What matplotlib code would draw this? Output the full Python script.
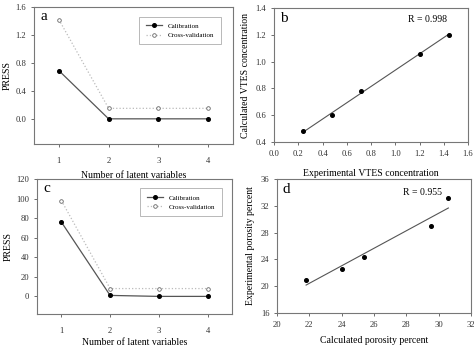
import numpy as np
import matplotlib
matplotlib.use('Agg')
import matplotlib.pyplot as plt

plt.rcParams['font.family'] = ['Liberation Serif', 'DejaVu Serif']

# PRESS vs number of latent variables
n_lv = [1, 2, 3, 4]
press_cal_a = [0.69, 0.0, 0.0, 0.0]
press_cv_a = [1.42, 0.15, 0.15, 0.15]
press_cal_c = [76, 1, 0, 0]
press_cv_c = [98, 8, 8, 8]

# VTES concentration
vtes_exp = [0.24, 0.48, 0.72, 1.20, 1.44]
vtes_calc = [0.48, 0.60, 0.78, 1.06, 1.20]

# porosity
por_calc = [21.8, 24.0, 25.4, 29.5, 30.6]
por_exp = [21.0, 22.6, 24.3, 29.0, 33.1]

W, H = 474, 349
fig = plt.figure(figsize=(W / 100, H / 100), dpi=100)


def box(l, t, r, b):
    return [l / W, 1 - b / H, (r - l) / W, (b - t) / H]


ax_a = fig.add_axes(box(34, 7, 233, 144))
ax_b = fig.add_axes(box(274, 8, 468, 142))
ax_c = fig.add_axes(box(37, 179, 232, 314))
ax_d = fig.add_axes(box(277, 179, 471, 313))

tick_fs = 6.2
lab_fs = 7


def style(ax, xpad=3):
    for s in ax.spines.values():
        s.set_color('#777777')
        s.set_linewidth(0.8)
    ax.tick_params(labelsize=tick_fs, colors='#555555', length=2.5, width=0.6,
                   labelcolor='#333333', pad=3)
    ax.tick_params(axis='x', pad=xpad)


def press_panel(ax, cal, cv, letter, ylim, yticks, yfmt, xlpad):
    ax.plot(n_lv, cv, ':', color='#bbbbbb', lw=0.9, marker='o', ms=2.6,
            mfc='white', mec='#666666', mew=0.6, label='Cross-validation')
    ax.plot(n_lv, cal, '-', color='#555555', lw=0.9, marker='o', ms=2.6,
            mfc='black', mec='black', label='Calibration')
    ax.set_xlim(0.5, 4.5)
    ax.set_ylim(*ylim)
    ax.set_xticks(n_lv)
    ax.set_yticks(yticks)
    ax.set_yticklabels([yfmt % v for v in yticks])
    ax.set_xlabel('Number of latent variables', fontsize=lab_fs, labelpad=xlpad)
    ax.set_ylabel('PRESS', fontsize=lab_fs, labelpad=3)
    ax.text(0.035, 0.93, letter, transform=ax.transAxes, fontsize=11,
            va='center', ha='left')
    h, l = ax.get_legend_handles_labels()
    leg = ax.legend(h[::-1], l[::-1], loc='upper left', bbox_to_anchor=(0.53, 0.93),
                    fontsize=5, frameon=True, fancybox=False, borderpad=0.9,
                    handlelength=2.4, labelspacing=0.5, borderaxespad=0)
    leg.get_frame().set_edgecolor('#999999')
    leg.get_frame().set_linewidth(0.6)
    style(ax, xpad=7)


press_panel(ax_a, press_cal_a, press_cv_a, 'a', (-0.36, 1.6),
            [0.0, 0.4, 0.8, 1.2, 1.6], '%.1f', 4)
press_panel(ax_c, press_cal_c, press_cv_c, 'c', (-18, 120),
            [0, 20, 40, 60, 80, 100, 120], '%d', 2)


def fit_panel(ax, x, y, letter, rtext, xlim, ylim, xticks, yticks, xfmt, yfmt,
              xlabel, ylabel, rpos, xlpad):
    k, c = np.polyfit(x, y, 1)
    xs = np.array([min(x), max(x)])
    ax.plot(xs, k * xs + c, '-', color='#555555', lw=0.8)
    ax.plot(x, y, 'o', color='black', ms=2.6)
    ax.set_xlim(*xlim)
    ax.set_ylim(*ylim)
    ax.set_xticks(xticks)
    ax.set_xticklabels([xfmt % v for v in xticks])
    ax.set_yticks(yticks)
    ax.set_yticklabels([yfmt % v for v in yticks])
    ax.set_xlabel(xlabel, fontsize=lab_fs, labelpad=xlpad)
    ax.set_ylabel(ylabel, fontsize=lab_fs, labelpad=4)
    ax.text(0.03, 0.92, letter, transform=ax.transAxes, fontsize=11,
            va='center', ha='left')
    ax.text(rpos[0], rpos[1], rtext, transform=ax.transAxes, fontsize=7,
            va='center', ha='left')
    style(ax)


fit_panel(ax_b, vtes_exp, vtes_calc, 'b', 'R = 0.998', (0, 1.6), (0.4, 1.4),
          np.arange(0, 1.61, 0.2), np.arange(0.4, 1.41, 0.2), '%.1f', '%.1f',
          'Experimental VTES concentration', 'Calculated VTES concentration',
          (0.69, 0.915), 8)
fit_panel(ax_d, por_calc, por_exp, 'd', 'R = 0.955', (20, 32), (16, 36),
          [20, 22, 24, 26, 28, 30, 32], [16, 20, 24, 28, 32, 36], '%d', '%d',
          'Calculated porosity percent', 'Experimental porosity percent',
          (0.65, 0.9), 5)

fig.savefig('out.png', dpi=100)
